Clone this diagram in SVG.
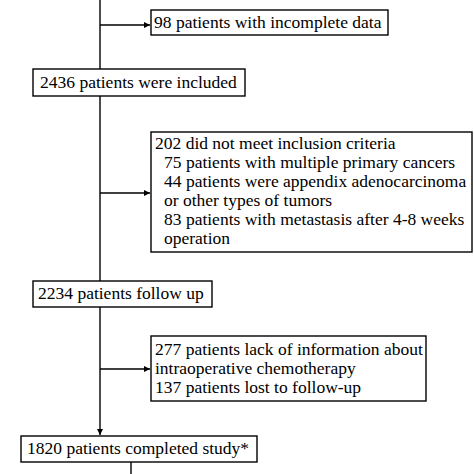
<svg xmlns="http://www.w3.org/2000/svg" width="474" height="474" viewBox="0 0 474 474" font-family="'Liberation Serif', 'Times New Roman', serif" font-size="17.5">
<style>
.box{fill:#fff;stroke:#000;stroke-width:1.4}
.ln{fill:none;stroke:#000;stroke-width:1.4}
.t{font-family:'Liberation Serif','Times New Roman',serif;font-size:17.5px;fill:#000}
</style>
<defs>
<marker id="ah" viewBox="0 0 10 10" refX="10" refY="5" markerWidth="6" markerHeight="6" orient="auto" markerUnits="userSpaceOnUse">
<path d="M0,0 L10,5 L0,10 z" fill="#000"/>
</marker>
</defs>
<rect width="474" height="474" fill="#fff"/>
<g id="connectors">
<line class="ln" x1="100" y1="0" x2="100" y2="69"/>
<line class="ln" x1="100" y1="25" x2="150" y2="25" marker-end="url(#ah)"/>
<line class="ln" x1="100" y1="96" x2="100" y2="281"/>
<line class="ln" x1="100" y1="193" x2="150" y2="193" marker-end="url(#ah)"/>
<line class="ln" x1="100" y1="307" x2="100" y2="435" marker-end="url(#ah)"/>
<line class="ln" x1="100" y1="369" x2="150" y2="369" marker-end="url(#ah)"/>
<line class="ln" x1="131" y1="462" x2="131" y2="474"/>
</g>
<g id="n1">
<rect class="box" x="151" y="10" width="237" height="25"/>
<text class="t" x="154" y="28">98 patients with incomplete data</text>
</g>
<g id="n2">
<rect class="box" x="33" y="69" width="212" height="27"/>
<text class="t" x="40" y="88">2436 patients were included</text>
</g>
<g id="n3">
<rect class="box" x="151" y="132" width="321" height="120"/>
<text class="t" x="155" y="149">202 did not meet inclusion criteria</text>
<text class="t" x="164" y="168">75 patients with multiple primary cancers</text>
<text class="t" x="164" y="187">44 patients were appendix adenocarcinoma</text>
<text class="t" x="164" y="206">or other types of tumors</text>
<text class="t" x="164" y="225">83 patients with metastasis after 4-8 weeks</text>
<text class="t" x="164" y="244">operation</text>
</g>
<g id="n4">
<rect class="box" x="33" y="281" width="179" height="26"/>
<text class="t" x="38" y="299">2234 patients follow up</text>
</g>
<g id="n5">
<rect class="box" x="151" y="336" width="275" height="65"/>
<text class="t" x="155" y="355">277 patients lack of information about</text>
<text class="t" x="155" y="374">intraoperative chemotherapy</text>
<text class="t" x="155" y="393">137 patients lost to follow-up</text>
</g>
<g id="n6">
<rect class="box" x="21" y="436" width="236" height="26"/>
<text class="t" x="27" y="454">1820 patients completed study*</text>
</g>
</svg>
